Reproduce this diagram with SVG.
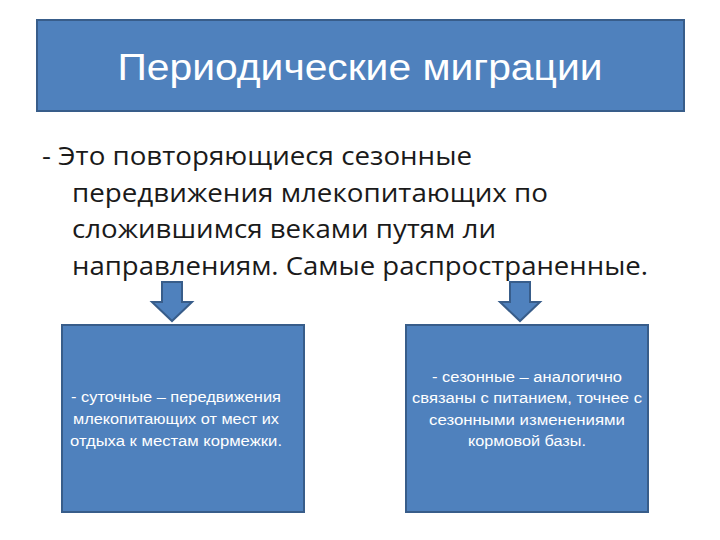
<svg xmlns="http://www.w3.org/2000/svg" width="720" height="540" viewBox="0 0 720 540">
<style>
.box{fill:#4f81bd;stroke:#385d8a;stroke-width:2}
.t{font-family:"Liberation Sans",Arial,sans-serif;fill:#fff}
.s{font-size:14px;text-anchor:middle}
.b{font-family:"Open Sans","Liberation Sans",sans-serif;font-size:25px;fill:#1a1a1a}
</style>
<rect width="720" height="540" fill="#fff"/>
<g id="title"><rect class="box" x="37" y="20" width="647" height="91"/>
<text class="t" x="360" y="80" font-size="36" text-anchor="middle" textLength="485" lengthAdjust="spacingAndGlyphs">Периодические миграции</text></g>
<g id="body" class="b">
<text x="42" y="165" textLength="430" lengthAdjust="spacingAndGlyphs">- Это повторяющиеся сезонные</text>
<text x="72" y="202" textLength="476" lengthAdjust="spacingAndGlyphs">передвижения млекопитающих по</text>
<text x="72" y="238" textLength="424" lengthAdjust="spacingAndGlyphs">сложившимся веками путям ли</text>
<text x="72" y="275" textLength="576" lengthAdjust="spacingAndGlyphs">направлениям. Самые распространенные.</text>
</g>
<g id="connectors">
<path class="box" d="M162 282h20v20h10l-20 19l-20-19h10z"/>
<path class="box" d="M510 282h20v20h10l-20 19l-20-19h10z"/>
</g>
<g id="left"><rect class="box" x="62" y="325" width="242" height="187"/>
<text class="t s" x="176" y="402" textLength="210" lengthAdjust="spacingAndGlyphs">- суточные – передвижения</text>
<text class="t s" x="176" y="424" textLength="206" lengthAdjust="spacingAndGlyphs">млекопитающих от мест их</text>
<text class="t s" x="176" y="446" textLength="212" lengthAdjust="spacingAndGlyphs">отдыха к местам кормежки.</text></g>
<g id="right"><rect class="box" x="406" y="325" width="242" height="187"/>
<text class="t s" x="527" y="382" textLength="190" lengthAdjust="spacingAndGlyphs">- сезонные – аналогично</text>
<text class="t s" x="527" y="403" textLength="230" lengthAdjust="spacingAndGlyphs">связаны с питанием, точнее с</text>
<text class="t s" x="527" y="425" textLength="196" lengthAdjust="spacingAndGlyphs">сезонными изменениями</text>
<text class="t s" x="527" y="446" textLength="118" lengthAdjust="spacingAndGlyphs">кормовой базы.</text></g>
</svg>
